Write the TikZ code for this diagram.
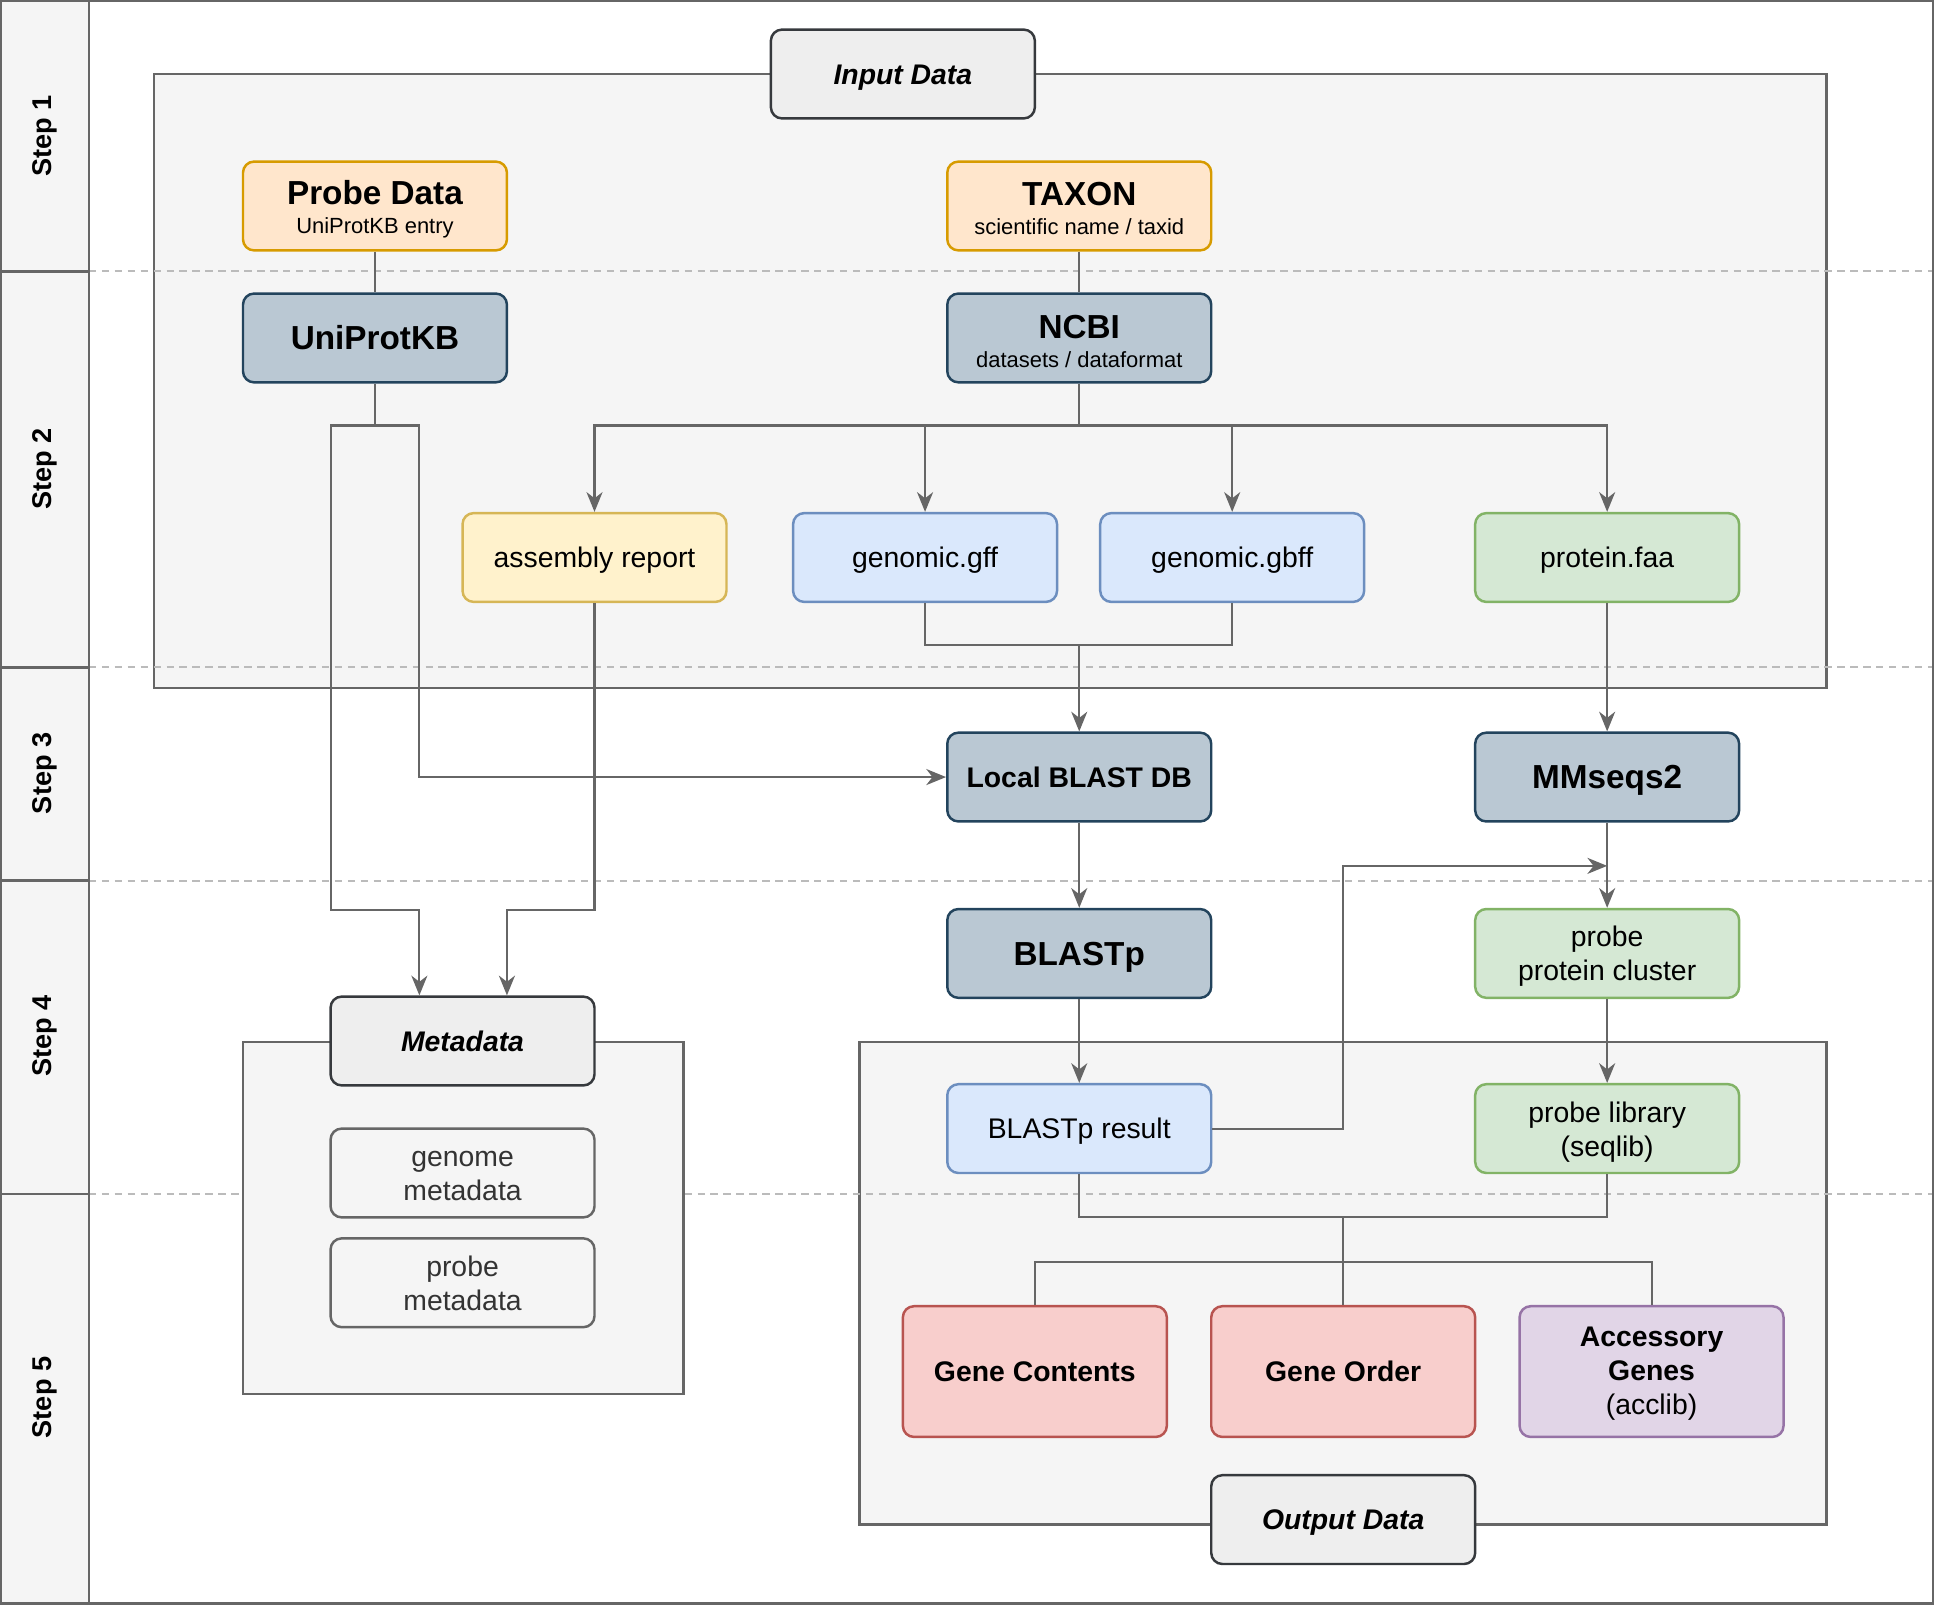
\documentclass[tikz,border=0pt]{standalone}
\usepackage{fontspec}
\setmainfont{Liberation Sans}
\usetikzlibrary{calc,arrows.meta,positioning}

\definecolor{orgfill}{HTML}{FFE6CC}\definecolor{orgline}{HTML}{D79B00}
\definecolor{toolfill}{HTML}{BAC8D3}\definecolor{toolline}{HTML}{23445D}
\definecolor{yelfill}{HTML}{FFF2CC}\definecolor{yelline}{HTML}{D6B656}
\definecolor{bluefill}{HTML}{DAE8FC}\definecolor{blueline}{HTML}{6C8EBF}
\definecolor{grnfill}{HTML}{D5E8D4}\definecolor{grnline}{HTML}{82B366}
\definecolor{redfill}{HTML}{F8CECC}\definecolor{redline}{HTML}{B85450}
\definecolor{purfill}{HTML}{E1D5E7}\definecolor{purline}{HTML}{9673A6}
\definecolor{lblfill}{HTML}{EEEEEE}\definecolor{lblline}{HTML}{36393D}
\definecolor{grpfill}{HTML}{F5F5F5}\definecolor{grpline}{HTML}{666666}
\definecolor{dashline}{HTML}{BBBBBB}\definecolor{txtgray}{HTML}{333333}

\newcommand{\fsbig}{\fontsize{27}{30}\selectfont}
\newcommand{\fsmid}{\fontsize{23}{27.6}\selectfont}
\newcommand{\fssmall}{\fontsize{17.8}{21}\selectfont}
\newcommand{\lift}[1]{\rule{0pt}{#1}}

\begin{document}
\begin{tikzpicture}[x=1pt,y=-1pt,
    box/.style={draw, rounded corners=9pt, line width=2pt, minimum width=214pt,
        minimum height=72pt, inner sep=2pt, align=center, font=\fsmid,
        execute at begin node={\rule{0pt}{0.95em}},
        execute at end node={\rule[-0.234em]{0pt}{0.234em}}},
    multi/.style={execute at begin node={}, execute at end node={}},
    srcbox/.style={box, multi, fill=orgfill, draw=orgline},
    toolbox/.style={box, fill=toolfill, draw=toolline},
    asmbox/.style={box, fill=yelfill, draw=yelline},
    annbox/.style={box, fill=bluefill, draw=blueline},
    protbox/.style={box, fill=grnfill, draw=grnline},
    resbox/.style={box, fill=redfill, draw=redline, minimum height=106pt, font=\fsmid\bfseries},
    accbox/.style={box, multi, fill=purfill, draw=purline, minimum height=106pt},
    lblbox/.style={box, fill=lblfill, draw=lblline, font=\fsmid\bfseries\itshape},
    itembox/.style={box, multi, fill=grpfill, draw=grpline, text=txtgray},
    group/.style={fill=grpfill, draw=grpline, line width=2pt},
    steplbl/.style={rotate=90, font=\fontsize{22}{26}\selectfont\bfseries},
    link/.style={draw=grpline, line width=1.7pt},
    arr/.style={link, -{Stealth[length=16pt,width=13pt,inset=5pt]}},
    sep/.style={draw=dashline, line width=1.7pt, dash pattern=on 6pt off 4.5pt}]
    \useasboundingbox (0,0) rectangle (1568,1301);

    % step column
    \fill[grpfill] (1,1) rectangle (72,1300);
    \foreach \y in {220,541,714,968}
        \draw[grpline, line width=2pt] (1,\y) -- (72,\y);
    \node[steplbl] (s1) at (36,110) {Step 1};
    \node[steplbl] (s2) at (36,380) {Step 2};
    \node[steplbl] (s3) at (36,627) {Step 3};
    \node[steplbl] (s4) at (36,840) {Step 4};
    \node[steplbl] (s5) at (36,1133) {Step 5};

    % groups
    \draw[group] (125,60) rectangle (1481,558);
    \draw[group] (697,845) rectangle (1481,1236);
    \foreach \y in {220,541,714,968}
        \draw[sep] (72,\y) -- (1568,\y);
    \draw[group] (197,845) rectangle (554,1130);
    \draw[grpline, line width=2pt] (72,1) -- (72,1300);
    \draw[grpline, line width=2pt] (1,1) rectangle (1567,1300);

    \node[lblbox] (input) at (732,60) {Input Data};
    \node[lblbox] (output) at (1089,1232) {Output Data};
    \node[lblbox] (meta) at (375,844) {Metadata};

    % step 1 / 2
    \node[srcbox] (probe) at (304,167) {{\fsbig\bfseries\lift{26.5pt}Probe Data}\\[-4pt]{\fssmall UniProtKB entry}};
    \node[srcbox] (taxon) at (875,167) {{\fsbig\bfseries\lift{28pt}TAXON}\\[-4pt]{\fssmall scientific name / taxid}};
    \node[toolbox, font=\fsbig\bfseries] (uniprot) at (304,274) {UniProtKB};
    \node[toolbox, multi] (ncbi) at (875,274) {{\fsbig\bfseries\lift{30pt}NCBI}\\[-4pt]{\fssmall datasets / dataformat}};
    \node[asmbox] (asm) at (482,452) {assembly report};
    \node[annbox] (gff) at (750,452) {genomic.gff};
    \node[annbox] (gbff) at (999,452) {genomic.gbff};
    \node[protbox] (faa) at (1303,452) {protein.faa};

    % step 3 / 4
    \node[toolbox, font=\fsmid\bfseries] (blastdb) at (875,630) {Local BLAST DB};
    \node[toolbox, font=\fsbig\bfseries] (mmseqs) at (1303,630) {MMseqs2};
    \node[toolbox, font=\fsbig\bfseries] (blastp) at (875,773) {BLASTp};
    \node[protbox, multi] (cluster) at (1303,773) {\lift{21.8pt}probe\\protein cluster};
    \node[annbox] (result) at (875,915) {BLASTp result};
    \node[protbox, multi] (seqlib) at (1303,915) {\lift{22.8pt}probe library\\(seqlib)};
    \node[itembox] (gmeta) at (375,951) {\lift{22pt}genome\\metadata};
    \node[itembox] (pmeta) at (375,1040) {\lift{23.5pt}probe\\metadata};

    % step 5
    \node[resbox] (contents) at (839,1112) {Gene Contents};
    \node[resbox] (order) at (1089,1112) {Gene Order};
    \node[accbox] (acc) at (1339,1112) {\textbf{\lift{20.5pt}Accessory}\\\textbf{Genes}\\(acclib)};

    \coordinate (usplit) at (304,345);
    \coordinate (nsplit) at (875,345);
    \coordinate (mmjoin) at (1303,702);
    \coordinate (rjoin) at (1089,987);
    \coordinate (osplit) at (1089,1023);

    \draw[link] (probe) -- (uniprot);
    \draw[link] (taxon) -- (ncbi);
    \draw[link] (uniprot) -- (usplit);
    \draw[arr] (usplit) -| (268,738) -| ([xshift=-35pt]meta.north);
    \draw[arr] (usplit) -| (340,630) -- (blastdb.west);
    \draw[arr] (asm.south) -- (482,738) -| ([xshift=36pt]meta.north);
    \draw[link] (ncbi) -- (nsplit);
    \foreach \n in {asm,gff,gbff,faa}
        \draw[arr] (nsplit) -| (\n.north);
    \draw[link] (gbff.south) |- (875,523);
    \draw[arr] (gff.south) |- (875,523) -- (blastdb.north);
    \draw[arr] (faa) -- (mmseqs);
    \draw[arr] (blastdb) -- (blastp);
    \draw[arr] (mmseqs) -- (cluster);
    \draw[arr] (blastp) -- (result);
    \draw[arr] (cluster) -- (seqlib);
    \draw[arr] (result.east) -| (1089,702) -- (mmjoin);
    % output branches
    \draw[link] (result.south) |- (rjoin);
    \draw[link] (seqlib.south) |- (rjoin) -- (osplit);
    \draw[link] (osplit) -| (contents.north);
    \draw[link] (osplit) -- (order.north);
    \draw[link] (osplit) -| (acc.north);
\end{tikzpicture}
\end{document}
